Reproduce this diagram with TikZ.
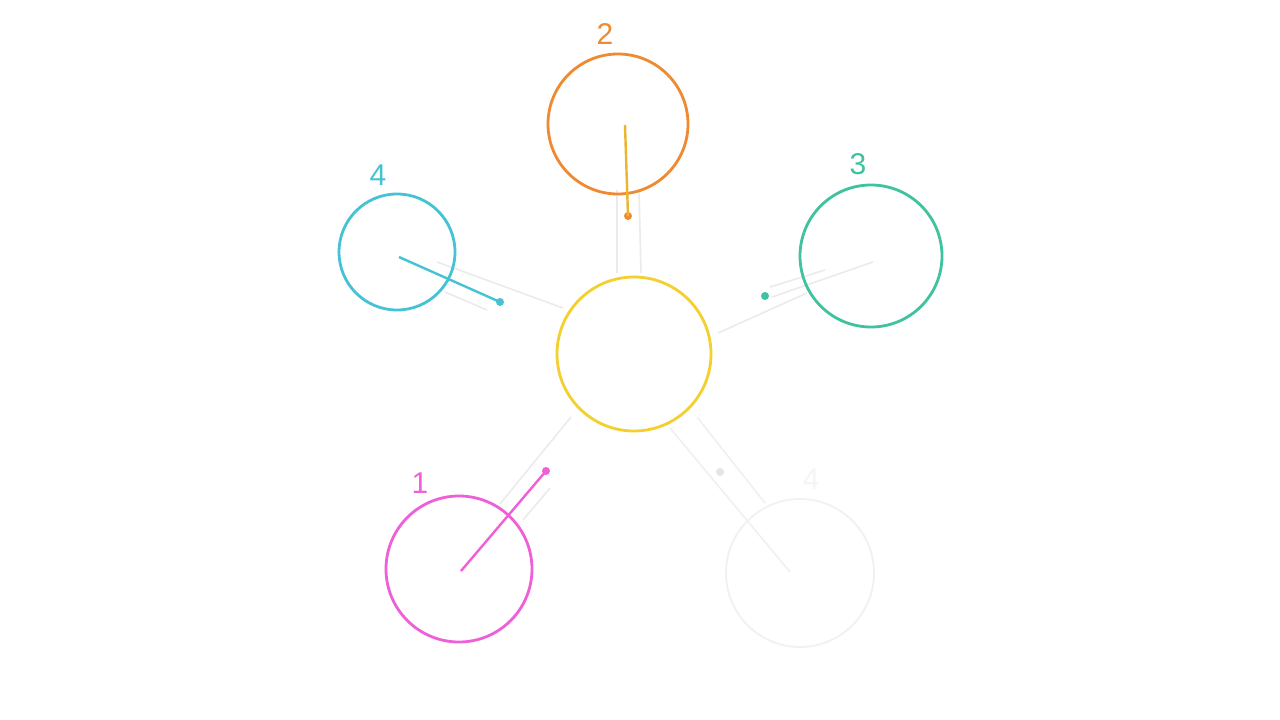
\documentclass[tikz,border=0pt]{standalone}
\usepackage{fontspec}
\setmainfont{Liberation Sans}
\begin{document}
\begin{tikzpicture}[x=1pt,y=-1pt,
  ring/.style={circle,draw,line width=2.8pt,inner sep=0pt},
  numlabel/.style={font=\fontsize{30}{31}\selectfont,inner sep=0pt},
  pin/.style={circle,fill,inner sep=0pt,minimum size=8pt},
  ghost/.style={draw=black!8,line width=1.6pt},
  stick/.style={line width=2.4pt}]
\definecolor{cYel}{HTML}{F3D02E}
\definecolor{cOra}{HTML}{EF8A30}
\definecolor{cGold}{HTML}{EDB52E}
\definecolor{cCya}{HTML}{45C3D5}
\definecolor{cGre}{HTML}{3FC29F}
\definecolor{cMag}{HTML}{EE5FD8}
\definecolor{cFaint}{HTML}{F1F1F1}
\useasboundingbox[fill=white] (0,0) rectangle (1280,720);

% ghost connectors
\coordinate (m1a) at (571,417); \coordinate (m1b) at (500,504);
\coordinate (m2a) at (550,488); \coordinate (m2b) at (523,520);
\coordinate (o1a) at (617,190); \coordinate (o1b) at (617,273);
\coordinate (o2a) at (639,190); \coordinate (o2b) at (641,273);
\coordinate (c1a) at (437,262); \coordinate (c1b) at (563,308);
\coordinate (c2a) at (445,292); \coordinate (c2b) at (487,310);
\coordinate (g1a) at (873,262); \coordinate (g1b) at (772,297);
\coordinate (g2a) at (770,287); \coordinate (g2b) at (825,270);
\coordinate (g3a) at (718,333); \coordinate (g3b) at (807,293);
\coordinate (f1a) at (670,428); \coordinate (f1b) at (790,572);
\coordinate (f2a) at (697,417); \coordinate (f2b) at (765,503);
\foreach \a/\b in {m1a/m1b,m2a/m2b,o1a/o1b,o2a/o2b,c1a/c1b,c2a/c2b,g1a/g1b,g2a/g2b,g3a/g3b}
  \draw[ghost] (\a) -- (\b);
\foreach \a/\b in {f1a/f1b,f2a/f2b}
  \draw[ghost,draw=black!6] (\a) -- (\b);

% circles
\node[ring,draw=cYel,minimum size=154pt] (hub) at (634,354) {};
\node[ring,draw=cOra,minimum size=140pt] (n2) at (618,124) {};
\node[ring,draw=cCya,minimum size=116pt] (n4) at (397,252) {};
\node[ring,draw=cGre,minimum size=142pt] (n3) at (871,256) {};
\node[ring,draw=cMag,minimum size=146pt] (n1) at (459,569) {};
\node[ring,draw=cFaint,line width=1.8pt,minimum size=148pt] (n5) at (800,573) {};

% labels
\node[numlabel,text=cOra] (l2) at (605,34) {2};
\node[numlabel,text=cCya] (l4) at (378,175) {4};
\node[numlabel,text=cGre] (l3) at (858,164) {3};
\node[numlabel,text=cMag] (l1) at (420,483) {1};
\node[numlabel,text=black!4] (l5) at (811,479) {4};

% pins and sticks
\node[pin,fill=cOra] (p2) at (628,216) {};
\node[pin,fill=cCya] (p4) at (500,302) {};
\node[pin,fill=cGre] (p3) at (765,296) {};
\node[pin,fill=cMag] (p1) at (546,471) {};
\node[pin,fill=black!10] (p5) at (720,472) {};
\coordinate (s2) at (625,125);
\coordinate (s4) at (399,257);
\coordinate (s1) at (461,571);
\draw[stick,cGold] (s2) -- (p2.center);
\draw[stick,cCya] (s4) -- (p4.center);
\draw[stick,cMag] (s1) -- (p1.center);
\end{tikzpicture}
\end{document}
